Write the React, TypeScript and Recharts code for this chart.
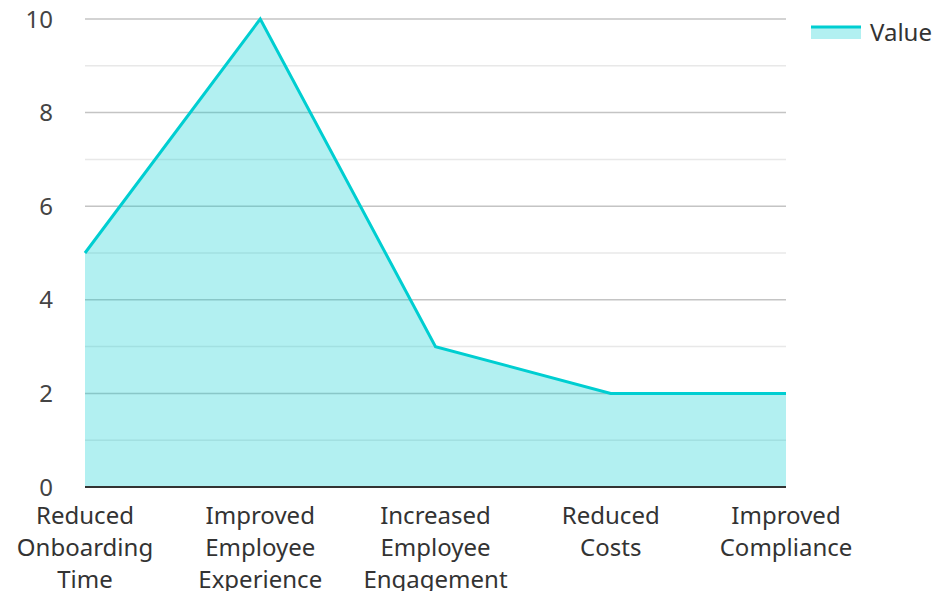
import { AreaChart, Area, XAxis, YAxis, CartesianGrid } from 'recharts'

const categories = [
  'Reduced Onboarding Time',
  'Improved Employee Experience',
  'Increased Employee Engagement',
  'Reduced Costs',
  'Improved Compliance',
]
const values = [5, 10, 3, 2, 2]
const majorTicks = [0, 2, 4, 6, 8, 10]
const minorTicks = [1, 3, 5, 7, 9]

const data = categories.map((name, i) => ({ name, Value: values[i] }))

const COLOR = '#00CED1'
const FONT = '"Noto Sans", sans-serif'

// one word per line, centred under the tick
function CategoryTick({ x, y, payload }: any) {
  const words = String(payload.value).split(' ')
  return (
    <text x={x} y={y + 29} textAnchor="middle" fill="#333" fontSize={24} fontFamily={FONT}>
      {words.map((w, i) => (
        <tspan key={i} x={x} dy={i === 0 ? 0 : 32}>
          {w}
        </tspan>
      ))}
    </text>
  )
}

export default function App() {
  return (
    <div style={{ position: 'absolute', left: 0, top: 0, width: 935, height: 591 }}>
      <AreaChart
        width={935}
        height={591}
        data={data}
        margin={{ top: 19, right: 149, left: 0, bottom: 0 }}
      >
        <CartesianGrid vertical={false} horizontalValues={minorTicks} stroke="#e8e8e8" strokeWidth={1.5} />
        <CartesianGrid vertical={false} stroke="#c4c4c4" strokeWidth={1.5} />
        <XAxis
          dataKey="name"
          interval={0}
          height={104}
          tickLine={false}
          axisLine={{ stroke: '#333', strokeWidth: 2 }}
          tick={<CategoryTick />}
        />
        <YAxis
          width={85}
          domain={[0, 10]}
          ticks={majorTicks}
          axisLine={false}
          tickLine={false}
          tickMargin={26}
          tick={{ fontSize: 24, fill: '#444', fontFamily: FONT }}
        />
        <Area
          type="linear"
          dataKey="Value"
          stroke={COLOR}
          strokeWidth={3}
          fill={COLOR}
          fillOpacity={0.3}
          isAnimationActive={false}
          dot={false}
          activeDot={false}
        />
      </AreaChart>
      <div
        style={{
          position: 'absolute',
          left: 811,
          top: 15,
          display: 'flex',
          alignItems: 'center',
          fontFamily: FONT,
          fontSize: 24,
          color: '#333',
        }}
      >
        <svg width={50} height={16} style={{ marginRight: 9 }}>
          <rect x={0} y={3} width={50} height={12} fill={COLOR} fillOpacity={0.3} />
          <line x1={0} x2={50} y1={3} y2={3} stroke={COLOR} strokeWidth={3} />
        </svg>
        <span>Value</span>
      </div>
    </div>
  )
}
